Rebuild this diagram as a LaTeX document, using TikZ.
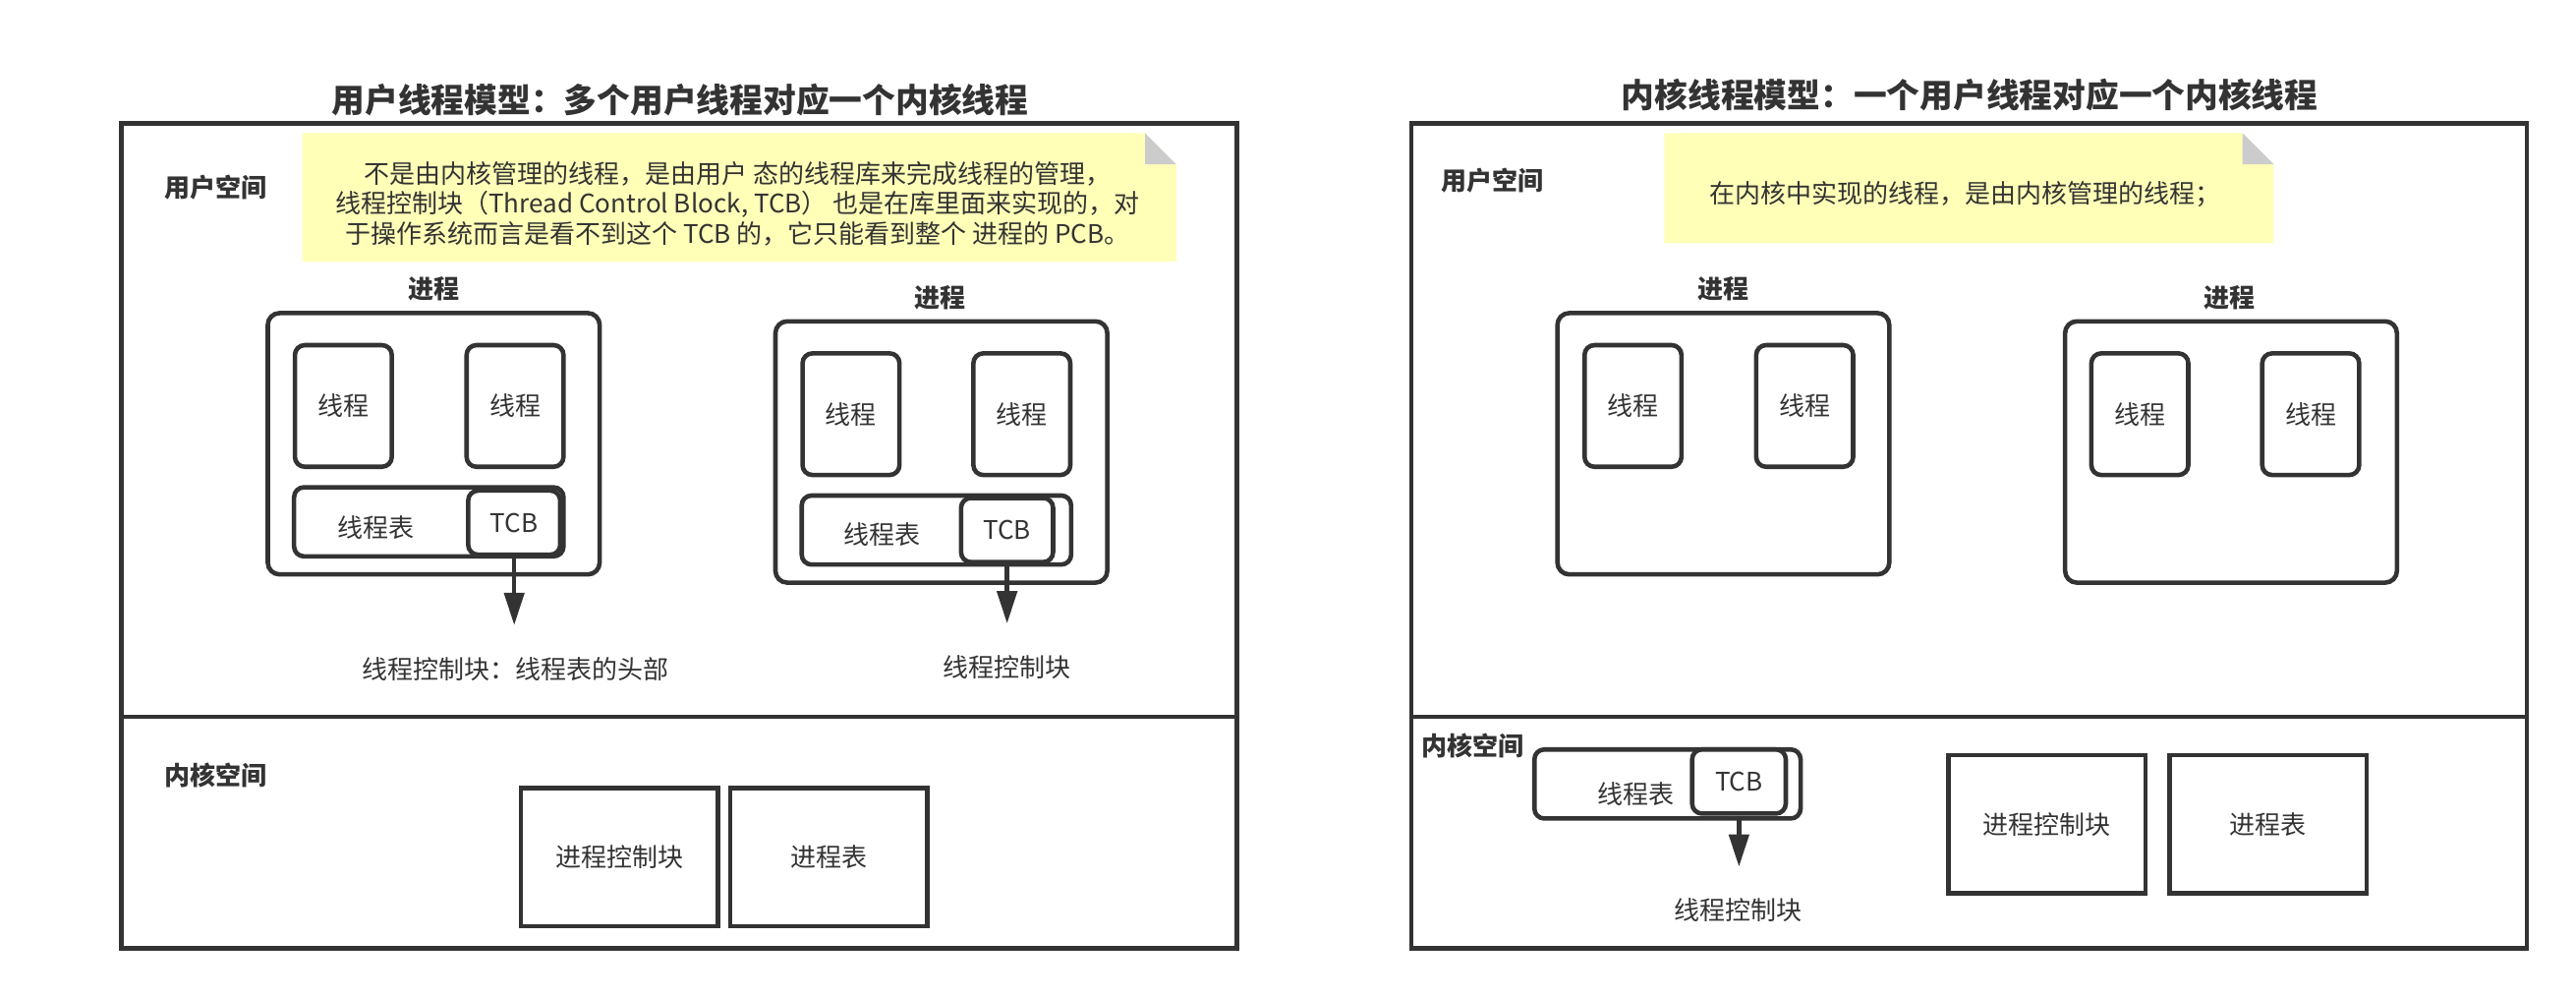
\documentclass[tikz,border=0pt]{standalone}
\usepackage{fontspec}
\setmainfont{Noto Sans CJK SC}
\usetikzlibrary{arrows.meta,positioning}
\definecolor{ink}{HTML}{333333}
\definecolor{notebg}{HTML}{FFFFB8}
\definecolor{foldgray}{HTML}{CCCCCC}
\newlength\dpx
\setlength\dpx{0.16716mm}

\begin{document}
\begin{tikzpicture}[
  x=\dpx, y=-\dpx, >={Triangle[length=3.3mm,width=2mm]},
  font=\fontsize{7.4pt}{8.65pt}\selectfont, text=ink,
  frame/.style={draw=ink, line width=1.3pt},
  procbox/.style={draw=ink, line width=1.3pt, rounded corners=1.2mm, minimum width=202\dpx, minimum height=159\dpx, inner sep=0pt},
  thread/.style={draw=ink, line width=1.3pt, rounded corners=1mm, minimum width=59\dpx, minimum height=74\dpx, inner sep=0pt},
  ttable/.style={draw=ink, line width=1.3pt, rounded corners=1mm, minimum width=164\dpx, minimum height=42\dpx, inner sep=0pt},
  tcb/.style={draw=ink, fill=white, line width=1.3pt, rounded corners=1mm, minimum width=56\dpx, minimum height=39\dpx, inner sep=0pt},
  kbox/.style={draw=ink, line width=1.3pt, minimum width=120\dpx, minimum height=84\dpx, inner sep=0pt},
  head/.style={font=\bfseries\fontsize{9.6pt}{11pt}\selectfont},
  tag/.style={font=\bfseries\fontsize{7.4pt}{8.65pt}\selectfont},
  area/.style={tag, anchor=west, inner sep=0pt},
  flow/.style={->, draw=ink, line width=1.3pt, shorten >=2mm},
]
\useasboundingbox (0,0) rectangle (1568,607);

% ---------- user-level threads ----------
\node[head] (titleL) at (414,61) {用户线程模型：多个用户线程对应一个内核线程};
\draw[frame] (74,75) rectangle (753,577);
\draw[frame] (74,436) -- (753,436);
\node[area] (userL) at (100,114) {用户空间};

\fill[notebg] (184,81) -- (697,81) -- (716,100) -- (716,159) -- (184,159) -- cycle;
\fill[foldgray] (697,81) -- (716,100) -- (697,100) -- cycle;
\node[align=center] (noteL) at (449,124) {不是由内核管理的线程，是由用户 态的线程库来完成线程的管理，\\
  线程控制块（Thread Control Block, TCB） 也是在库里面来实现的，对\\
  于操作系统而言是看不到这个 TCB 的，它只能看到整个 进程的 PCB。};

\node[procbox] (procA) at (264,270) {};
\node[tag] (procAlbl) at (264,176) {进程};
\node[thread] (thA1) at (209,247) {线程};
\node[thread] (thA2) at (313.5,247) {线程};
\node[ttable] (tblA) at (261,317.5) {};
\node (tblAtxt) at (229,321) {线程表};
\node[tcb] (tcbA) at (313,318) {TCB};
\node (lblA) at (314,407) {线程控制块：线程表的头部};
\draw[flow] (tcbA.south) -- (tcbA.south |- lblA.north);

\node[procbox] (procB) at (573,275) {};
\node[tag] (procBlbl) at (572,181) {进程};
\node[thread] (thB1) at (518,252) {线程};
\node[thread] (thB2) at (622,252) {线程};
\node[ttable] (tblB) at (570,322.5) {};
\node (tblBtxt) at (537,325) {线程表};
\node[tcb] (tcbB) at (613,322.5) {TCB};
\node (lblB) at (613,406) {线程控制块};
\draw[flow] (tcbB.south) -- (tcbB.south |- lblB.north);

\node[area] (kernL) at (100,472) {内核空间};
\node[kbox] (pcbL) at (377,521.5) {进程控制块};
\node[kbox] (ptL) at (504.5,521.5) {进程表};

% ---------- kernel-level threads ----------
\node[head] (titleR) at (1199,58) {内核线程模型：一个用户线程对应一个内核线程};
\draw[frame] (859,75) rectangle (1538,577);
\draw[frame] (859,436) -- (1538,436);
\node[area] (userR) at (877,110) {用户空间};

\fill[notebg] (1013,81) -- (1365,81) -- (1384,100) -- (1384,148) -- (1013,148) -- cycle;
\fill[foldgray] (1365,81) -- (1384,100) -- (1365,100) -- cycle;
\node (noteR) at (1196,118) {在内核中实现的线程，是由内核管理的线程；};

\node[procbox] (procC) at (1049,270) {};
\node[tag] (procClbl) at (1049,176) {进程};
\node[thread] (thC1) at (994,247) {线程};
\node[thread] (thC2) at (1098.5,247) {线程};

\node[procbox] (procD) at (1358,275) {};
\node[tag] (procDlbl) at (1357,181) {进程};
\node[thread] (thD1) at (1302.5,252) {线程};
\node[thread] (thD2) at (1406.5,252) {线程};

\node[area] (kernR) at (865,454) {内核空间};
\node[ttable, minimum width=162\dpx] (tblR) at (1015,477) {};
\node (tblRtxt) at (996,483) {线程表};
\node[tcb, minimum width=57\dpx] (tcbR) at (1058.5,475.5) {TCB};
\node (lblR) at (1058,554) {线程控制块};
\draw[flow] (tcbR.south) -- (tcbR.south |- lblR.north);

\node[kbox] (pcbR) at (1246,501.5) {进程控制块};
\node[kbox] (ptR) at (1380.5,501.5) {进程表};
\end{tikzpicture}
\end{document}
